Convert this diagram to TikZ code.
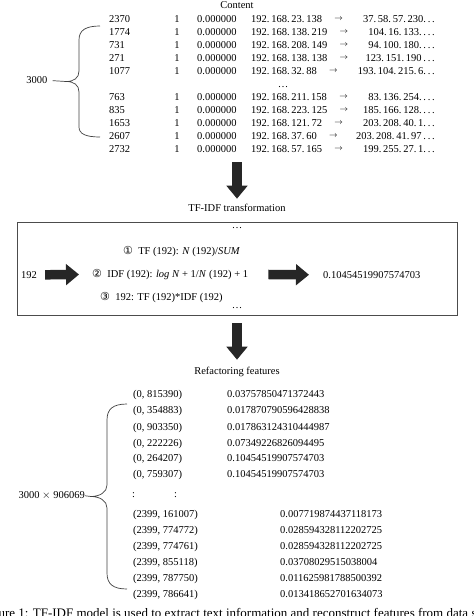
\documentclass[tikz,border=0pt]{standalone}
\usepackage{fontspec}
\setmainfont{Liberation Serif}
\newfontfamily\circfont{DejaVu Sans}
\usepackage{tikz}
\usetikzlibrary{calc, positioning, arrows.meta}
\tikzset{
    txt/.style={inner sep=0pt, anchor=mid west},
    title/.style={inner sep=0pt, anchor=mid},
    fatarrow/.style={line width=9.5pt, -{Triangle[length=13pt, width=20.5pt]}, black!85},
    brace/.style={line width=0.7pt, black!75},
    frame/.style={rectangle, draw=black!70, line width=0.8pt, minimum width=440pt, minimum height=93pt, inner sep=0pt},
    tinyarrow/.style={inner sep=0pt, anchor=mid west, font=\fontsize{8}{8}\selectfont}
}
\newcommand{\circnum}[1]{{\circfont\fontsize{11}{11}\selectfont #1}\enspace}

\begin{document}
\begin{tikzpicture}[x=1pt, y=-1pt, font=\fontsize{10.5}{12}\selectfont]
    \useasboundingbox (0,0) rectangle (474,616);
    \clip (0,0) rectangle (474,616);

    % Content table
    \node[title] (content) at (237,6) {Content};
    \foreach \y/\id/\ipa/\ipb [count=\i] in {
        20/2370/{192.\,168.\,23.\,138}/{37.\,58.\,57.\,230.\,.\,.},
        33/1774/{192.\,168.\,138.\,219}/{104.\,16.\,133.\,.\,.\,.},
        46/731/{192.\,168.\,208.\,149}/{94.\,100.\,180.\,.\,.\,.},
        59/271/{192.\,168.\,138.\,138}/{123.\,151.\,190\,.\,.\,.},
        72/1077/{192.\,168.\,32.\,88}/{193.\,104.\,215.\,6.\,.\,.},
        98/763/{192.\,168.\,211.\,158}/{83.\,136.\,254.\,.\,.\,.},
        111/835/{192.\,168.\,223.\,125}/{185.\,166.\,128.\,.\,.\,.},
        124/1653/{192.\,168.\,121.\,72}/{203.\,208.\,40.\,1.\,.\,.},
        137.5/2607/{192.\,168.\,37.\,60}/{203.\,208.\,41.\,97\,.\,.\,.},
        150.5/2732/{192.\,168.\,57.\,165}/{199.\,255.\,27.\,1.\,.\,.}} {
        \node[txt] (id-\i) at (109,\y) {\id};
        \node[title] (one-\i) at (177,\y) {1};
        \node[txt] (zero-\i) at (197,\y) {0.000000};
        \node[txt] (src-\i) at (251,\y) {\ipa};
        \node[tinyarrow, right=12pt of src-\i] (to-\i) {$\rightarrow$};
        \node[inner sep=0pt, anchor=mid east] (dst-\i) at (435,\y) {\ipb};
    }
    \node[title] (cdots) at (283,85) {\dots};

    % brace 3000
    \node[title] (n3000) at (37,81.5) {3000};
    \coordinate (cusp1) at (66,81.5);
    \draw[brace] (100,26) .. controls (86,26) and (79,30) .. (79,40) -- (79,71)
        .. controls (79,78) and (74,81.5) .. (cusp1)
        .. controls (74,81.5) and (79,85) .. (79,92) -- (79,127)
        .. controls (79,134) and (86,137) .. (100,137);
    \draw[brace, shorten <=5pt] (n3000.east) -- (cusp1);

    \coordinate (down1) at (237,162);
    \node[title] (tftitle) at (237,209) {TF-IDF transformation};
    \draw[fatarrow, shorten >=5pt] (down1) -- (tftitle.north);

    % TF-IDF box
    \node[frame] (tfbox) at (237,268.5) {};
    \node[title] (bdots) at (237,226) {\dots};
    \node[txt] (tf1) at (123,252) {\circnum{①}TF (192): \textit{N} (192)/\textit{SUM}};
    \node[txt] (tf2) at (92,275) {\circnum{②}IDF (192): \textit{log N} + 1/\textit{N} (192) + 1};
    \node[txt] (tf3) at (100,298) {\circnum{③}192: TF (192)*IDF (192)};
    \node[title] (edots) at (237,306) {\dots};
    \node[txt] (n192) at (21,276) {192};
    \node[txt] (result) at (323,276) {0.10454519907574703};
    \draw[fatarrow, shorten <=8pt, shorten >=13pt] (n192.east) -- (tf2.west);
    \draw[fatarrow, shorten <=20pt, shorten >=14pt] (tf2.east) -- (result.west);

    \node[title] (reftitle) at (237,372) {Refactoring features};
    \draw[fatarrow, shorten <=8pt, shorten >=7pt] (tfbox.south) -- (reftitle.north);

    % Refactoring features
    \foreach \y/\key/\val [count=\i] in {
        395/{(0, 815390)}/0.03757850471372443,
        411.5/{(0, 354883)}/0.017870790596428838,
        428/{(0, 903350)}/0.017863124310444987,
        444/{(0, 222226)}/0.07349226826094495,
        459.5/{(0, 264207)}/0.10454519907574703,
        475/{(0, 759307)}/0.10454519907574703} {
        \node[txt] (key-\i) at (133,\y) {\key};
        \node[txt] (val-\i) at (227,\y) {\val};
    }
    \node[txt] (colA) at (132,495) {:};
    \node[txt] (colB) at (174,495) {:};
    \foreach \y/\key/\val [count=\i from 7] in {
        515/{(2399, 161007)}/0.007719874437118173,
        531/{(2399, 774772)}/0.028594328112202725,
        547/{(2399, 774761)}/0.028594328112202725,
        563/{(2399, 855118)}/0.03708029515038004,
        579/{(2399, 787750)}/0.011625981788500392,
        595/{(2399, 786641)}/0.013418652701634073} {
        \node[txt] (key-\i) at (133,\y) {\key};
        \node[txt] (val-\i) at (280,\y) {\val};
    }

    % brace 3000 x 906069
    \node[inner sep=0pt, anchor=mid east] (nsize) at (85,496.5) {3000 $\times$ 906069};
    \coordinate (cusp2) at (91,496.5);
    \draw[brace] (127,404) .. controls (113,404) and (107,409) .. (107,420) -- (107,485)
        .. controls (107,492) and (100,496.5) .. (cusp2)
        .. controls (100,496.5) and (107,501) .. (107,508) -- (107,573)
        .. controls (107,584) and (113,589) .. (127,589);
    \draw[brace] (nsize.east) -- (cusp2);

    \node[inner sep=0pt, anchor=base west, font=\fontsize{13}{14}\selectfont] (caption) at (-19,617)
        {\textsc{Figure 1}: TF-IDF model is used to extract text information and reconstruct features from data sets.};
\end{tikzpicture}
\end{document}
